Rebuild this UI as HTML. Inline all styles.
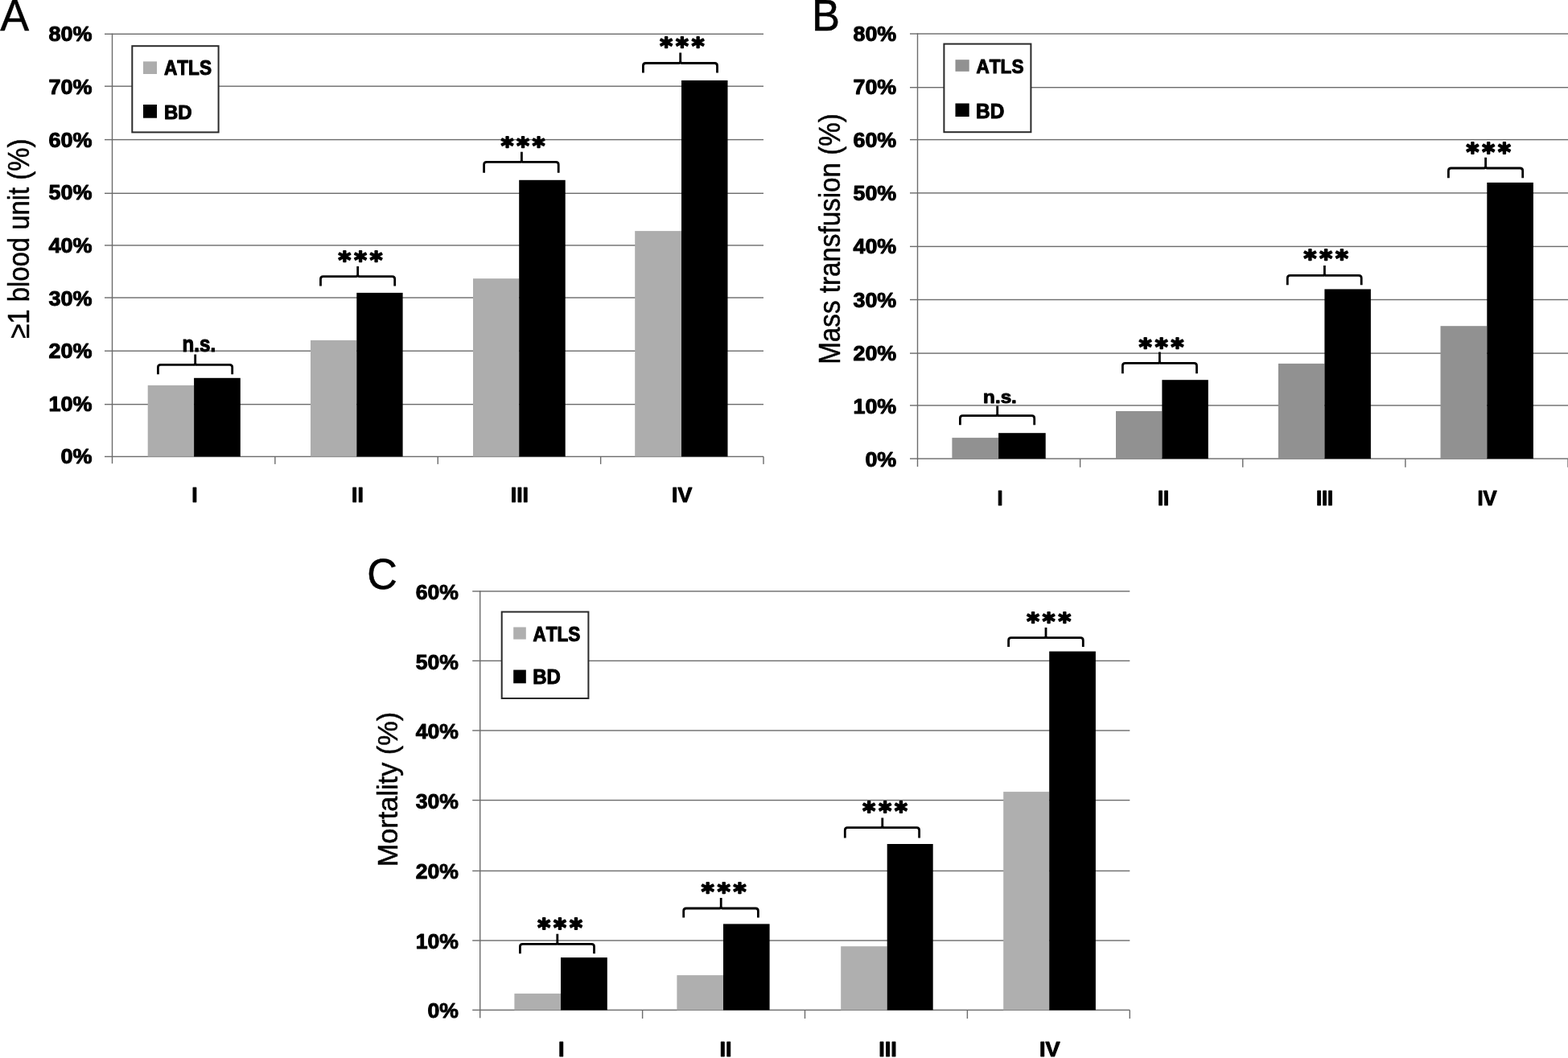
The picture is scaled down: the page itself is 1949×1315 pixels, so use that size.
<!DOCTYPE html>
<html><head><meta charset="utf-8"><title>Figure</title>
<style>
html,body{margin:0;padding:0;background:#fff;}
body{width:1949px;height:1315px;overflow:hidden;}
svg{display:block;font-kerning:none;font-variant-ligatures:none;}
text{fill:#000;}
</style></head>
<body>
<svg width="1949" height="1315" viewBox="0 0 1949 1315">
<rect x="0" y="0" width="1949" height="1315" fill="#fff"/>
<rect x="130" y="566.8" width="819" height="1.4" fill="#6c6c6c"/>
<rect x="130" y="501.9" width="819" height="1.4" fill="#6c6c6c"/>
<rect x="130" y="435.5" width="819" height="1.4" fill="#6c6c6c"/>
<rect x="130" y="369.3" width="819" height="1.4" fill="#6c6c6c"/>
<rect x="130" y="304.25" width="819" height="1.4" fill="#6c6c6c"/>
<rect x="130" y="239.6" width="819" height="1.4" fill="#6c6c6c"/>
<rect x="130" y="172.9" width="819" height="1.4" fill="#6c6c6c"/>
<rect x="130" y="106.5" width="819" height="1.4" fill="#6c6c6c"/>
<rect x="130" y="41.6" width="819" height="1.4" fill="#6c6c6c"/>
<rect x="138.8" y="41.6" width="1.4" height="534.6" fill="#6c6c6c"/>
<rect x="341.18" y="567.5" width="1.4" height="9.4" fill="#6c6c6c"/>
<rect x="543.55" y="567.5" width="1.4" height="9.4" fill="#6c6c6c"/>
<rect x="745.92" y="567.5" width="1.4" height="9.4" fill="#6c6c6c"/>
<rect x="948.3" y="567.5" width="1.4" height="9.4" fill="#6c6c6c"/>
<rect x="183.7" y="478.9" width="57.4" height="88.6" fill="#adadad"/>
<rect x="241.1" y="469.8" width="57.7" height="97.7" fill="#000"/>
<rect x="386" y="422.9" width="57.3" height="144.6" fill="#adadad"/>
<rect x="443.3" y="363.9" width="57.3" height="203.6" fill="#000"/>
<rect x="588" y="346.2" width="57.2" height="221.3" fill="#adadad"/>
<rect x="645.2" y="223.8" width="57.5" height="343.7" fill="#000"/>
<rect x="789.2" y="287.1" width="57.8" height="280.4" fill="#adadad"/>
<rect x="847" y="99.9" width="57.5" height="467.6" fill="#000"/>
<rect x="164.3" y="57.2" width="107.3" height="107.2" fill="#fff" stroke="#2a2a2a" stroke-width="2"/>
<rect x="178" y="76.4" width="17" height="15.6" fill="#adadad"/>
<rect x="178" y="130" width="17" height="16.7" fill="#000"/>
<text transform="translate(203.94,93.06) scale(0.9062,1)" font-family="'Liberation Sans', sans-serif" font-weight="bold" font-size="25.00" stroke="#000" stroke-width="1.0" vector-effect="non-scaling-stroke" stroke-linejoin="round">ATLS</text>
<text transform="translate(203.9,147.5) scale(0.9697,1)" font-family="'Liberation Sans', sans-serif" font-weight="bold" font-size="24.71" stroke="#000" stroke-width="1.0" vector-effect="non-scaling-stroke" stroke-linejoin="round">BD</text>
<text transform="translate(75.57,576.39) scale(1.0228,1)" font-family="'Liberation Sans', sans-serif" font-weight="bold" font-size="26.41" stroke="#000" stroke-width="1.0" vector-effect="non-scaling-stroke" stroke-linejoin="round">0%</text>
<text transform="translate(60.54,510.77) scale(1.0228,1)" font-family="'Liberation Sans', sans-serif" font-weight="bold" font-size="26.41" stroke="#000" stroke-width="1.0" vector-effect="non-scaling-stroke" stroke-linejoin="round">10%</text>
<text transform="translate(60.54,445.15) scale(1.0228,1)" font-family="'Liberation Sans', sans-serif" font-weight="bold" font-size="26.41" stroke="#000" stroke-width="1.0" vector-effect="non-scaling-stroke" stroke-linejoin="round">20%</text>
<text transform="translate(60.54,379.52) scale(1.0228,1)" font-family="'Liberation Sans', sans-serif" font-weight="bold" font-size="26.41" stroke="#000" stroke-width="1.0" vector-effect="non-scaling-stroke" stroke-linejoin="round">30%</text>
<text transform="translate(60.54,313.92) scale(1.0228,1)" font-family="'Liberation Sans', sans-serif" font-weight="bold" font-size="26.41" stroke="#000" stroke-width="1.0" vector-effect="non-scaling-stroke" stroke-linejoin="round">40%</text>
<text transform="translate(60.54,248.3) scale(1.0228,1)" font-family="'Liberation Sans', sans-serif" font-weight="bold" font-size="26.41" stroke="#000" stroke-width="1.0" vector-effect="non-scaling-stroke" stroke-linejoin="round">50%</text>
<text transform="translate(60.54,182.68) scale(1.0228,1)" font-family="'Liberation Sans', sans-serif" font-weight="bold" font-size="26.41" stroke="#000" stroke-width="1.0" vector-effect="non-scaling-stroke" stroke-linejoin="round">60%</text>
<text transform="translate(60.54,117.06) scale(1.0228,1)" font-family="'Liberation Sans', sans-serif" font-weight="bold" font-size="26.41" stroke="#000" stroke-width="1.0" vector-effect="non-scaling-stroke" stroke-linejoin="round">70%</text>
<text transform="translate(60.54,51.44) scale(1.0228,1)" font-family="'Liberation Sans', sans-serif" font-weight="bold" font-size="26.41" stroke="#000" stroke-width="1.0" vector-effect="non-scaling-stroke" stroke-linejoin="round">80%</text>
<text transform="translate(238.19,623.7) scale(1.0567,1)" font-family="'Liberation Sans', sans-serif" font-weight="bold" font-size="25.29" stroke="#000" stroke-width="1.0" vector-effect="non-scaling-stroke" stroke-linejoin="round">I</text>
<text transform="translate(437.07,623.7) scale(1.0567,1)" font-family="'Liberation Sans', sans-serif" font-weight="bold" font-size="25.29" stroke="#000" stroke-width="1.0" vector-effect="non-scaling-stroke" stroke-linejoin="round">II</text>
<text transform="translate(634.71,623.7) scale(1.0567,1)" font-family="'Liberation Sans', sans-serif" font-weight="bold" font-size="25.29" stroke="#000" stroke-width="1.0" vector-effect="non-scaling-stroke" stroke-linejoin="round">III</text>
<text transform="translate(835.02,623.7) scale(1.0567,1)" font-family="'Liberation Sans', sans-serif" font-weight="bold" font-size="25.29" stroke="#000" stroke-width="1.0" vector-effect="non-scaling-stroke" stroke-linejoin="round">IV</text>
<path d="M196.4,465.2 L196.4,456.6 Q196.4,453.4 199.6,453.4 L240.7,453.4 Q242.7,453.4 242.7,450.9 L242.7,440.4 M288.7,465.2 L288.7,456.6 Q288.7,453.4 285.5,453.4 L244.7,453.4 Q242.7,453.4 242.7,450.9" fill="none" stroke="#000" stroke-width="2.8" stroke-linejoin="round"/>
<path d="M398.5,355.6 L398.5,346.8 Q398.5,343.6 401.7,343.6 L442.7,343.6 Q444.7,343.6 444.7,341.1 L444.7,331 M490.7,355.6 L490.7,346.8 Q490.7,343.6 487.5,343.6 L446.7,343.6 Q444.7,343.6 444.7,341.1" fill="none" stroke="#000" stroke-width="2.8" stroke-linejoin="round"/>
<path d="M601.6,214.7 L601.6,204.6 Q601.6,201.4 604.8,201.4 L646.4,201.4 Q648.4,201.4 648.4,198.9 L648.4,188.7 M694.2,214.7 L694.2,204.6 Q694.2,201.4 691,201.4 L650.4,201.4 Q648.4,201.4 648.4,198.9" fill="none" stroke="#000" stroke-width="2.8" stroke-linejoin="round"/>
<path d="M799.4,90.5 L799.4,81.7 Q799.4,78.5 802.6,78.5 L843.7,78.5 Q845.7,78.5 845.7,76 L845.7,65.5 M891.5,90.5 L891.5,81.7 Q891.5,78.5 888.3,78.5 L847.7,78.5 Q845.7,78.5 845.7,76" fill="none" stroke="#000" stroke-width="2.8" stroke-linejoin="round"/>
<text transform="translate(226.61,437.44) scale(0.8997,1)" font-family="'Liberation Sans', sans-serif" font-weight="bold" font-size="26.81" stroke="#000" stroke-width="1.0" vector-effect="non-scaling-stroke" stroke-linejoin="round">n.s.</text>
<text transform="translate(421.15,332.67) scale(1.0381,1)" x="-0.58 18.37 37.31" font-family="'DejaVu Sans', sans-serif" font-weight="bold" font-size="28.86" stroke="#000" stroke-width="1.9" vector-effect="non-scaling-stroke" stroke-linejoin="round">***</text>
<text transform="translate(623.25,191.25) scale(1.0490,1)" x="-0.57 18.12 36.8" font-family="'DejaVu Sans', sans-serif" font-weight="bold" font-size="28.43" stroke="#000" stroke-width="1.9" vector-effect="non-scaling-stroke" stroke-linejoin="round">***</text>
<text transform="translate(820.85,67.37) scale(1.0429,1)" x="-0.58 18.34 37.27" font-family="'DejaVu Sans', sans-serif" font-weight="bold" font-size="28.86" stroke="#000" stroke-width="1.9" vector-effect="non-scaling-stroke" stroke-linejoin="round">***</text>
<text transform="translate(35.83,420.79) rotate(-90) scale(0.8929,1)" font-family="'Liberation Sans', sans-serif" font-size="36.82" stroke="#000" stroke-width="0.5" vector-effect="non-scaling-stroke" stroke-linejoin="round">≥1 blood unit (%)</text>
<text transform="translate(0.14,38.25) scale(0.9748,1)" font-family="'Liberation Sans', sans-serif" font-weight="normal" font-size="55.23" stroke="#000" stroke-width="0.5" vector-effect="non-scaling-stroke" stroke-linejoin="round">A</text>
<rect x="1131" y="569.4" width="818" height="1.4" fill="#6c6c6c"/>
<rect x="1131" y="503.2" width="818" height="1.4" fill="#6c6c6c"/>
<rect x="1131" y="438.4" width="818" height="1.4" fill="#6c6c6c"/>
<rect x="1131" y="371.8" width="818" height="1.4" fill="#6c6c6c"/>
<rect x="1131" y="305.7" width="818" height="1.4" fill="#6c6c6c"/>
<rect x="1131" y="239.2" width="818" height="1.4" fill="#6c6c6c"/>
<rect x="1131" y="172.9" width="818" height="1.4" fill="#6c6c6c"/>
<rect x="1131" y="108" width="818" height="1.4" fill="#6c6c6c"/>
<rect x="1131" y="41.3" width="818" height="1.4" fill="#6c6c6c"/>
<rect x="1139.8" y="41.3" width="1.4" height="538.8" fill="#6c6c6c"/>
<rect x="1341.92" y="570.1" width="1.4" height="10.7" fill="#6c6c6c"/>
<rect x="1544.05" y="570.1" width="1.4" height="10.7" fill="#6c6c6c"/>
<rect x="1746.17" y="570.1" width="1.4" height="10.7" fill="#6c6c6c"/>
<rect x="1948.3" y="570.1" width="1.4" height="10.7" fill="#6c6c6c"/>
<rect x="1183.4" y="544.1" width="57.7" height="26" fill="#919191"/>
<rect x="1241.1" y="538.2" width="58.6" height="31.9" fill="#000"/>
<rect x="1387" y="511" width="57.4" height="59.1" fill="#919191"/>
<rect x="1444.4" y="472.2" width="57.4" height="97.9" fill="#000"/>
<rect x="1588.9" y="451.9" width="57.5" height="118.2" fill="#919191"/>
<rect x="1646.4" y="359.4" width="57.5" height="210.7" fill="#000"/>
<rect x="1790.5" y="405.2" width="57.6" height="164.9" fill="#919191"/>
<rect x="1848.3" y="226.9" width="57.6" height="343.2" fill="#000"/>
<rect x="1173.4" y="54.6" width="108" height="109.6" fill="#fff" stroke="#2a2a2a" stroke-width="2"/>
<rect x="1187.5" y="74.2" width="17.2" height="14.6" fill="#919191"/>
<rect x="1187.5" y="128.5" width="17.2" height="16.5" fill="#000"/>
<text transform="translate(1213.54,91.16) scale(0.9240,1)" font-family="'Liberation Sans', sans-serif" font-weight="bold" font-size="24.43" stroke="#000" stroke-width="1.0" vector-effect="non-scaling-stroke" stroke-linejoin="round">ATLS</text>
<text transform="translate(1213.07,146.5) scale(0.9597,1)" font-family="'Liberation Sans', sans-serif" font-weight="bold" font-size="25.44" stroke="#000" stroke-width="1.0" vector-effect="non-scaling-stroke" stroke-linejoin="round">BD</text>
<text transform="translate(1075.39,580.1) scale(1.0684,1)" font-family="'Liberation Sans', sans-serif" font-weight="bold" font-size="25.14" stroke="#000" stroke-width="1.0" vector-effect="non-scaling-stroke" stroke-linejoin="round">0%</text>
<text transform="translate(1060.45,513.95) scale(1.0684,1)" font-family="'Liberation Sans', sans-serif" font-weight="bold" font-size="25.14" stroke="#000" stroke-width="1.0" vector-effect="non-scaling-stroke" stroke-linejoin="round">10%</text>
<text transform="translate(1060.45,447.79) scale(1.0684,1)" font-family="'Liberation Sans', sans-serif" font-weight="bold" font-size="25.14" stroke="#000" stroke-width="1.0" vector-effect="non-scaling-stroke" stroke-linejoin="round">20%</text>
<text transform="translate(1060.45,381.62) scale(1.0684,1)" font-family="'Liberation Sans', sans-serif" font-weight="bold" font-size="25.14" stroke="#000" stroke-width="1.0" vector-effect="non-scaling-stroke" stroke-linejoin="round">30%</text>
<text transform="translate(1060.45,315.48) scale(1.0684,1)" font-family="'Liberation Sans', sans-serif" font-weight="bold" font-size="25.14" stroke="#000" stroke-width="1.0" vector-effect="non-scaling-stroke" stroke-linejoin="round">40%</text>
<text transform="translate(1060.45,249.32) scale(1.0684,1)" font-family="'Liberation Sans', sans-serif" font-weight="bold" font-size="25.14" stroke="#000" stroke-width="1.0" vector-effect="non-scaling-stroke" stroke-linejoin="round">50%</text>
<text transform="translate(1060.45,183.17) scale(1.0684,1)" font-family="'Liberation Sans', sans-serif" font-weight="bold" font-size="25.14" stroke="#000" stroke-width="1.0" vector-effect="non-scaling-stroke" stroke-linejoin="round">60%</text>
<text transform="translate(1060.45,117.01) scale(1.0684,1)" font-family="'Liberation Sans', sans-serif" font-weight="bold" font-size="25.14" stroke="#000" stroke-width="1.0" vector-effect="non-scaling-stroke" stroke-linejoin="round">70%</text>
<text transform="translate(1060.45,50.85) scale(1.0684,1)" font-family="'Liberation Sans', sans-serif" font-weight="bold" font-size="25.14" stroke="#000" stroke-width="1.0" vector-effect="non-scaling-stroke" stroke-linejoin="round">80%</text>
<text transform="translate(1239.5,628.1) scale(1.0233,1)" font-family="'Liberation Sans', sans-serif" font-weight="bold" font-size="25.00" stroke="#000" stroke-width="1.0" vector-effect="non-scaling-stroke" stroke-linejoin="round">I</text>
<text transform="translate(1438.89,628.1) scale(1.0233,1)" font-family="'Liberation Sans', sans-serif" font-weight="bold" font-size="25.00" stroke="#000" stroke-width="1.0" vector-effect="non-scaling-stroke" stroke-linejoin="round">II</text>
<text transform="translate(1635.89,628.1) scale(1.0233,1)" font-family="'Liberation Sans', sans-serif" font-weight="bold" font-size="25.00" stroke="#000" stroke-width="1.0" vector-effect="non-scaling-stroke" stroke-linejoin="round">III</text>
<text transform="translate(1836.45,628.1) scale(1.0233,1)" font-family="'Liberation Sans', sans-serif" font-weight="bold" font-size="25.00" stroke="#000" stroke-width="1.0" vector-effect="non-scaling-stroke" stroke-linejoin="round">IV</text>
<path d="M1193.4,528.2 L1193.4,519.9 Q1193.4,516.7 1196.6,516.7 L1237.7,516.7 Q1239.7,516.7 1239.7,514.2 L1239.7,504.5 M1285.7,528.2 L1285.7,519.9 Q1285.7,516.7 1282.5,516.7 L1241.7,516.7 Q1239.7,516.7 1239.7,514.2" fill="none" stroke="#000" stroke-width="2.8" stroke-linejoin="round"/>
<path d="M1395.4,464.3 L1395.4,454.6 Q1395.4,451.4 1398.6,451.4 L1439.4,451.4 Q1441.4,451.4 1441.4,448.9 L1441.4,437.6 M1487.5,464.3 L1487.5,454.6 Q1487.5,451.4 1484.3,451.4 L1443.4,451.4 Q1441.4,451.4 1441.4,448.9" fill="none" stroke="#000" stroke-width="2.8" stroke-linejoin="round"/>
<path d="M1600.3,354.3 L1600.3,345.6 Q1600.3,342.4 1603.5,342.4 L1644.4,342.4 Q1646.4,342.4 1646.4,339.9 L1646.4,330 M1692.2,354.3 L1692.2,345.6 Q1692.2,342.4 1689,342.4 L1648.4,342.4 Q1646.4,342.4 1646.4,339.9" fill="none" stroke="#000" stroke-width="2.8" stroke-linejoin="round"/>
<path d="M1800.4,221.2 L1800.4,212.2 Q1800.4,209 1803.6,209 L1844.6,209 Q1846.6,209 1846.6,206.5 L1846.6,195.7 M1892.7,221.2 L1892.7,212.2 Q1892.7,209 1889.5,209 L1848.6,209 Q1846.6,209 1846.6,206.5" fill="none" stroke="#000" stroke-width="2.8" stroke-linejoin="round"/>
<text transform="translate(1222.1,500.78) scale(1.0636,1)" font-family="'Liberation Sans', sans-serif" font-weight="bold" font-size="22.80" stroke="#000" stroke-width="1.0" vector-effect="non-scaling-stroke" stroke-linejoin="round">n.s.</text>
<text transform="translate(1416.45,440.67) scale(1.0501,1)" x="-0.58 18.31 37.2" font-family="'DejaVu Sans', sans-serif" font-weight="bold" font-size="28.86" stroke="#000" stroke-width="1.9" vector-effect="non-scaling-stroke" stroke-linejoin="round">***</text>
<text transform="translate(1621.05,331.09) scale(1.0717,1)" x="-0.56 17.91 36.39" font-family="'DejaVu Sans', sans-serif" font-weight="bold" font-size="28.21" stroke="#000" stroke-width="1.9" vector-effect="non-scaling-stroke" stroke-linejoin="round">***</text>
<text transform="translate(1823.05,199.01) scale(1.0173,1)" x="-0.59 18.87 38.33" font-family="'DejaVu Sans', sans-serif" font-weight="bold" font-size="29.72" stroke="#000" stroke-width="1.9" vector-effect="non-scaling-stroke" stroke-linejoin="round">***</text>
<text transform="translate(1043.89,452.77) rotate(-90) scale(0.9094,1)" font-family="'Liberation Sans', sans-serif" font-size="36.49" stroke="#000" stroke-width="0.5" vector-effect="non-scaling-stroke" stroke-linejoin="round">Mass transfusion (%)</text>
<text transform="translate(1009.05,38.25) scale(0.9491,1)" font-family="'Liberation Sans', sans-serif" font-weight="normal" font-size="55.23" stroke="#000" stroke-width="0.5" vector-effect="non-scaling-stroke" stroke-linejoin="round">B</text>
<rect x="587.2" y="1254.7" width="817.1" height="1.4" fill="#6c6c6c"/>
<rect x="587.2" y="1168.3" width="817.1" height="1.4" fill="#6c6c6c"/>
<rect x="587.2" y="1081.75" width="817.1" height="1.4" fill="#6c6c6c"/>
<rect x="587.2" y="993.9" width="817.1" height="1.4" fill="#6c6c6c"/>
<rect x="587.2" y="907.28" width="817.1" height="1.4" fill="#6c6c6c"/>
<rect x="587.2" y="820.65" width="817.1" height="1.4" fill="#6c6c6c"/>
<rect x="587.2" y="734.2" width="817.1" height="1.4" fill="#6c6c6c"/>
<rect x="596" y="734.2" width="1.4" height="531.1" fill="#6c6c6c"/>
<rect x="797.9" y="1255.4" width="1.4" height="10.6" fill="#6c6c6c"/>
<rect x="999.8" y="1255.4" width="1.4" height="10.6" fill="#6c6c6c"/>
<rect x="1201.7" y="1255.4" width="1.4" height="10.6" fill="#6c6c6c"/>
<rect x="1403.6" y="1255.4" width="1.4" height="10.6" fill="#6c6c6c"/>
<rect x="639.4" y="1234.9" width="57.6" height="20.5" fill="#afafaf"/>
<rect x="697" y="1190.1" width="57.8" height="65.3" fill="#000"/>
<rect x="841.4" y="1212.1" width="57.6" height="43.3" fill="#afafaf"/>
<rect x="899" y="1148.4" width="57.6" height="107" fill="#000"/>
<rect x="1045.2" y="1176.2" width="57.5" height="79.2" fill="#afafaf"/>
<rect x="1102.7" y="1049" width="57" height="206.4" fill="#000"/>
<rect x="1247.2" y="984.1" width="57" height="271.3" fill="#afafaf"/>
<rect x="1304.2" y="809.6" width="57.7" height="445.8" fill="#000"/>
<rect x="623.7" y="760.5" width="107.7" height="107.5" fill="#fff" stroke="#2a2a2a" stroke-width="2"/>
<rect x="638.2" y="779.5" width="15.6" height="15.1" fill="#afafaf"/>
<rect x="638.2" y="832.6" width="15.6" height="16.7" fill="#000"/>
<text transform="translate(662.44,797.25) scale(0.8880,1)" font-family="'Liberation Sans', sans-serif" font-weight="bold" font-size="25.42" stroke="#000" stroke-width="1.0" vector-effect="non-scaling-stroke" stroke-linejoin="round">ATLS</text>
<text transform="translate(662.2,850.1) scale(0.9474,1)" font-family="'Liberation Sans', sans-serif" font-weight="bold" font-size="25.29" stroke="#000" stroke-width="1.0" vector-effect="non-scaling-stroke" stroke-linejoin="round">BD</text>
<text transform="translate(531.45,1265.44) scale(1.0127,1)" font-family="'Liberation Sans', sans-serif" font-weight="bold" font-size="26.27" stroke="#000" stroke-width="1.0" vector-effect="non-scaling-stroke" stroke-linejoin="round">0%</text>
<text transform="translate(516.66,1178.68) scale(1.0127,1)" font-family="'Liberation Sans', sans-serif" font-weight="bold" font-size="26.27" stroke="#000" stroke-width="1.0" vector-effect="non-scaling-stroke" stroke-linejoin="round">10%</text>
<text transform="translate(516.66,1091.91) scale(1.0127,1)" font-family="'Liberation Sans', sans-serif" font-weight="bold" font-size="26.27" stroke="#000" stroke-width="1.0" vector-effect="non-scaling-stroke" stroke-linejoin="round">20%</text>
<text transform="translate(516.66,1005.12) scale(1.0127,1)" font-family="'Liberation Sans', sans-serif" font-weight="bold" font-size="26.27" stroke="#000" stroke-width="1.0" vector-effect="non-scaling-stroke" stroke-linejoin="round">30%</text>
<text transform="translate(516.66,918.38) scale(1.0127,1)" font-family="'Liberation Sans', sans-serif" font-weight="bold" font-size="26.27" stroke="#000" stroke-width="1.0" vector-effect="non-scaling-stroke" stroke-linejoin="round">40%</text>
<text transform="translate(516.66,831.61) scale(1.0127,1)" font-family="'Liberation Sans', sans-serif" font-weight="bold" font-size="26.27" stroke="#000" stroke-width="1.0" vector-effect="non-scaling-stroke" stroke-linejoin="round">50%</text>
<text transform="translate(516.66,744.84) scale(1.0127,1)" font-family="'Liberation Sans', sans-serif" font-weight="bold" font-size="26.27" stroke="#000" stroke-width="1.0" vector-effect="non-scaling-stroke" stroke-linejoin="round">60%</text>
<text transform="translate(693.88,1313.3) scale(1.0799,1)" font-family="'Liberation Sans', sans-serif" font-weight="bold" font-size="25.15" stroke="#000" stroke-width="1.0" vector-effect="non-scaling-stroke" stroke-linejoin="round">I</text>
<text transform="translate(894.41,1313.3) scale(1.0799,1)" font-family="'Liberation Sans', sans-serif" font-weight="bold" font-size="25.15" stroke="#000" stroke-width="1.0" vector-effect="non-scaling-stroke" stroke-linejoin="round">II</text>
<text transform="translate(1092.28,1313.3) scale(1.0799,1)" font-family="'Liberation Sans', sans-serif" font-weight="bold" font-size="25.15" stroke="#000" stroke-width="1.0" vector-effect="non-scaling-stroke" stroke-linejoin="round">III</text>
<text transform="translate(1292.06,1313.3) scale(1.0799,1)" font-family="'Liberation Sans', sans-serif" font-weight="bold" font-size="25.15" stroke="#000" stroke-width="1.0" vector-effect="non-scaling-stroke" stroke-linejoin="round">IV</text>
<path d="M646.4,1185.3 L646.4,1176.6 Q646.4,1173.4 649.6,1173.4 L690.8,1173.4 Q692.8,1173.4 692.8,1170.9 L692.8,1160.8 M738.5,1185.3 L738.5,1176.6 Q738.5,1173.4 735.3,1173.4 L694.8,1173.4 Q692.8,1173.4 692.8,1170.9" fill="none" stroke="#000" stroke-width="2.8" stroke-linejoin="round"/>
<path d="M849.7,1140.5 L849.7,1132.2 Q849.7,1129 852.9,1129 L894.2,1129 Q896.2,1129 896.2,1126.5 L896.2,1115.9 M942.4,1140.5 L942.4,1132.2 Q942.4,1129 939.2,1129 L898.2,1129 Q896.2,1129 896.2,1126.5" fill="none" stroke="#000" stroke-width="2.8" stroke-linejoin="round"/>
<path d="M1050.3,1041.5 L1050.3,1031.9 Q1050.3,1028.7 1053.5,1028.7 L1094.8,1028.7 Q1096.8,1028.7 1096.8,1026.2 L1096.8,1016.4 M1142.6,1041.5 L1142.6,1031.9 Q1142.6,1028.7 1139.4,1028.7 L1098.8,1028.7 Q1096.8,1028.7 1096.8,1026.2" fill="none" stroke="#000" stroke-width="2.8" stroke-linejoin="round"/>
<path d="M1253.6,804 L1253.6,795.9 Q1253.6,792.7 1256.8,792.7 L1298,792.7 Q1300,792.7 1300,790.2 L1300,780 M1346.3,804 L1346.3,795.9 Q1346.3,792.7 1343.1,792.7 L1302,792.7 Q1300,792.7 1300,790.2" fill="none" stroke="#000" stroke-width="2.8" stroke-linejoin="round"/>
<text transform="translate(668.85,1163.03) scale(1.0074,1)" x="-0.6 19.12 38.84" font-family="'DejaVu Sans', sans-serif" font-weight="bold" font-size="30.15" stroke="#000" stroke-width="1.9" vector-effect="non-scaling-stroke" stroke-linejoin="round">***</text>
<text transform="translate(872.35,1117.73) scale(1.0494,1)" x="-0.58 18.41 37.41" font-family="'DejaVu Sans', sans-serif" font-weight="bold" font-size="29.07" stroke="#000" stroke-width="1.9" vector-effect="non-scaling-stroke" stroke-linejoin="round">***</text>
<text transform="translate(1072.95,1017.89) scale(1.0346,1)" x="-0.59 18.58 37.75" font-family="'DejaVu Sans', sans-serif" font-weight="bold" font-size="29.29" stroke="#000" stroke-width="1.9" vector-effect="non-scaling-stroke" stroke-linejoin="round">***</text>
<text transform="translate(1276.75,781.63) scale(1.0304,1)" x="-0.58 18.5 37.59" font-family="'DejaVu Sans', sans-serif" font-weight="bold" font-size="29.07" stroke="#000" stroke-width="1.9" vector-effect="non-scaling-stroke" stroke-linejoin="round">***</text>
<text transform="translate(494.4,1077.26) rotate(-90) scale(0.9959,1)" font-family="'Liberation Sans', sans-serif" font-size="34.44" stroke="#000" stroke-width="0.5" vector-effect="non-scaling-stroke" stroke-linejoin="round">Mortality (%)</text>
<text transform="translate(456.3,731.93) scale(0.9709,1)" font-family="'Liberation Sans', sans-serif" font-weight="normal" font-size="53.67" stroke="#000" stroke-width="0.5" vector-effect="non-scaling-stroke" stroke-linejoin="round">C</text>
</svg>
</body></html>
